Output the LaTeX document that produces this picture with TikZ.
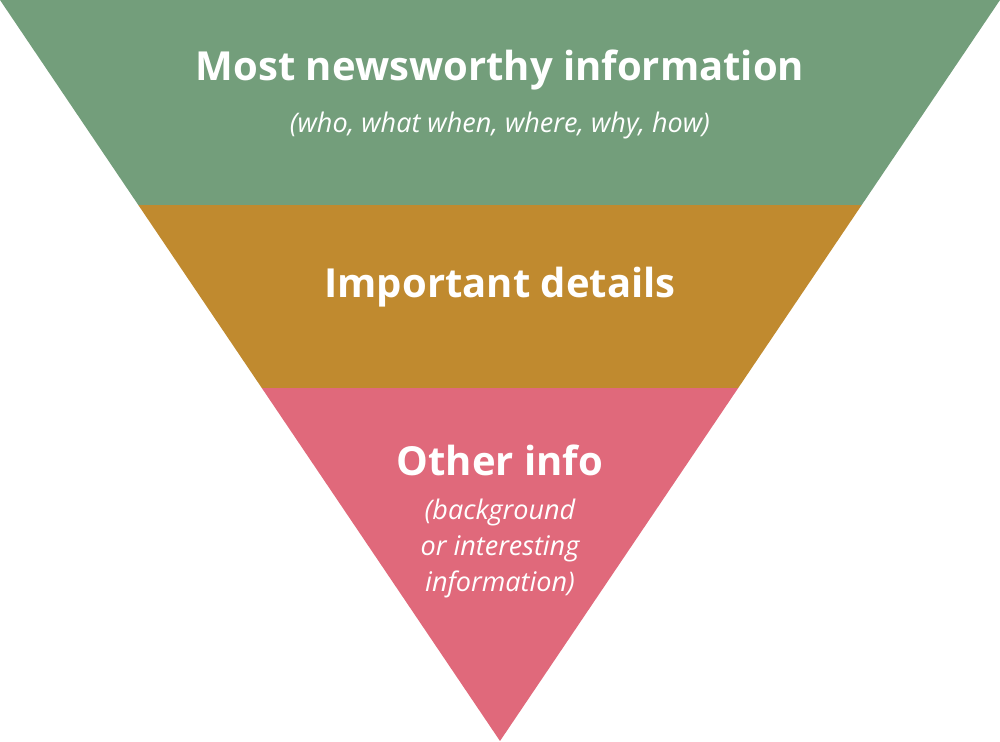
\documentclass[tikz,border=0pt]{standalone}
\usepackage{fontspec}
\setmainfont{Open Sans}
\definecolor{gr}{HTML}{739E7B}
\definecolor{og}{HTML}{C08A2F}
\definecolor{pk}{HTML}{E0697B}
\begin{document}
\begin{tikzpicture}[x=1pt,y=-1pt,
  big/.style={text=white,font=\fontsize{40}{48}\selectfont\bfseries},
  small/.style={text=white,font=\fontsize{27}{36}\selectfont\itshape,align=center}]
\useasboundingbox (0,0) rectangle (1000,741);
\fill[gr] (0,0) -- (1000,0) -- (861.7,205) -- (138.3,205) -- cycle;
\fill[og] (138.3,205) -- (861.7,205) -- (738.2,388) -- (261.8,388) -- cycle;
\fill[pk] (261.8,388) -- (738.2,388) -- (500,741) -- cycle;
\node[big] (t1) at (500,70) {Most newsworthy information};
\node[small] (s1) at (500,125) {(who, what when, where, why, how)};
\node[big] (t2) at (500,287) {Important details};
\node[big] (t3) at (500,460) {Other info};
\node[small] (s3) at (500,548) {(background\\or interesting\\information)};
\end{tikzpicture}
\end{document}
